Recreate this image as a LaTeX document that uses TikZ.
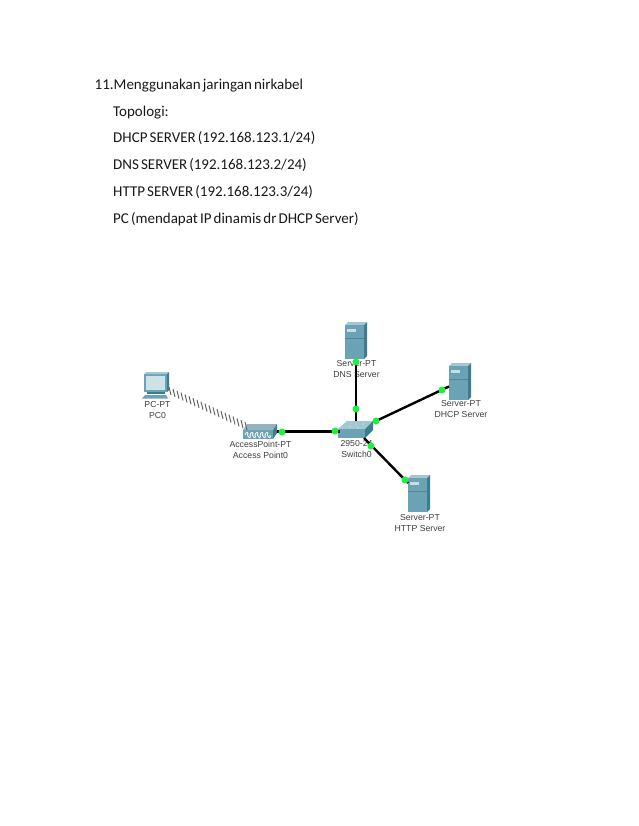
\documentclass[tikz,border=0pt]{standalone}
\usepackage{fontspec}
\setmainfont{Carlito}
\newfontfamily\docfont[WordSpace=0.62]{Carlito}
\newfontfamily\labelfont{Liberation Sans}
\usetikzlibrary{calc}
\definecolor{srvfront}{HTML}{6BA3B5}
\definecolor{srvside}{HTML}{3A7C90}
\definecolor{srvtop}{HTML}{A3C8D3}
\definecolor{portgreen}{HTML}{1EF040}
\definecolor{labelgray}{HTML}{404040}
\tikzset{
  doc/.style={anchor=base west,inner sep=0pt,font=\docfont\fontsize{15}{18}\selectfont,text=black!90},
  dev/.style={inner sep=0pt,align=center,font=\labelfont\fontsize{8.7}{10.6}\selectfont,text=labelgray},
  cable/.style={line width=2.4pt,black},
  port/.style={circle,fill=portgreen,inner sep=0pt,minimum size=7pt},
  stripe/.style={line width=.95pt,black!62},
  server/.pic={
    \fill[srvtop] (0,0)--(3,-3)--(22,-3)--(19,0)--cycle;
    \fill[srvfront] (0,0) rectangle (19,34);
    \fill[srvside] (19,0)--(22,-3)--(22,31)--(19,34)--cycle;
    \fill[srvtop!60!white] (2,4) rectangle (11,7);
    \draw[srvfront!80!black,line width=.3pt] (0,13)--(19,13);
  }
}
\begin{document}
\begin{tikzpicture}[x=1pt,y=-1pt]
\useasboundingbox (0,0) rectangle (638,826);
\fill[white] (0,0) rectangle (638,826);

% document text
\node[doc] (t1) at (94.5,90) {11.Menggunakan jaringan nirkabel};
\node[doc] (t2) at (113,116.5) {Topologi:};
\node[doc] (t3) at (113,143) {DHCP SERVER (192.168.123.1/24)};
\node[doc] (t4) at (113,170) {DNS SERVER (192.168.123.2/24)};
\node[doc] (t5) at (113,197) {HTTP SERVER (192.168.123.3/24)};
\node[doc] (t6) at (113,224) {PC (mendapat IP dinamis dr DHCP Server)};

% devices
\pic at (345,325) {server};
\pic at (449,366) {server};
\pic at (408,478) {server};

% switch
\fill[srvtop] (338,429)--(347,421)--(373,421)--(365,429)--cycle;
\fill[srvfront] (338,429) rectangle (365,438);
\fill[srvside] (365,429)--(373,421)--(373,430)--(365,438)--cycle;
\fill[white!85!srvtop] (350,427) circle (.7) (356,424) circle (.7) (358,428) circle (.7) (363,424) circle (.7);

% access point
\fill[srvtop!90!black] (243,430)--(247,424)--(277,424)--(273,430)--cycle;
\fill[srvfront] (243,430) rectangle (273,439);
\fill[srvside] (273,430)--(277,424)--(277,433)--(273,439)--cycle;
\draw[white,line width=.8pt] (245,435)
  \foreach \k in {0,...,4} { .. controls +(1,-3.5) and +(1.5,-3.5) .. +(2.5,0) .. controls +(1,3.5) and +(1.5,3.5) .. +(5,0) ++(5,0) };

% PC
\fill[srvfront] (144,374) rectangle (167,392);
\fill[srvtop] (144,374)--(146,372)--(169,372)--(167,374)--cycle;
\fill[srvside] (167,374)--(169,372)--(169,390)--(167,392)--cycle;
\fill[srvtop!55!white] (146,376) rectangle (165,390);
\fill[srvside] (147,392) rectangle (165,394);
\fill[srvfront] (145,395)--(166,395)--(168,398.5)--(142,398.5)--cycle;

% wireless link
\coordinate (wa) at (170,391);
\coordinate (wb) at (246,426);
\foreach \i in {0,...,19}
  \draw[stripe] ($(wa)!\i/19!(wb)+(-1,-4)$) -- ($(wa)!\i/19!(wb)+(1,4)$);

% labels
\node[dev] (pc)   at (157.5,410) {PC-PT\\PC0};
\node[dev] (ap)   at (260.5,450) {AccessPoint-PT\\Access Point0};
\node[dev] (sw)   at (356.5,449) {2950-24\\Switch0};
\node[dev] (dns)  at (356.5,369) {Server-PT\\DNS Server};
\node[dev] (dhcp) at (461,409) {Server-PT\\DHCP Server};
\node[dev] (http) at (420,523) {Server-PT\\HTTP Server};

% ports and cables
\coordinate (apP) at (282,432);
\coordinate (swL) at (335,431);
\coordinate (dnsP) at (356,362);
\coordinate (swT) at (356,409);
\coordinate (swTe) at (356,421);
\coordinate (dhcpP) at (442,390);
\coordinate (dhcpE) at (449,386.5);
\coordinate (swR) at (376,421);
\coordinate (swB) at (371,446);
\coordinate (swBe) at (364,438);
\coordinate (httpP) at (405,480);
\coordinate (httpE) at (408,483);
\coordinate (apE) at (277,431.5);
\coordinate (swLe) at (340,431.5);
\draw[cable] (apE) -- (swLe);
\draw[cable] (dnsP) -- (swTe);
\draw[cable] (dhcpE) -- (swR);
\draw[cable] (swBe) -- (httpE);
\foreach \p in {apP,swL,dnsP,swT,dhcpP,swR,swB,httpP}
  \node[port] (n\p) at (\p) {};
\end{tikzpicture}
\end{document}
